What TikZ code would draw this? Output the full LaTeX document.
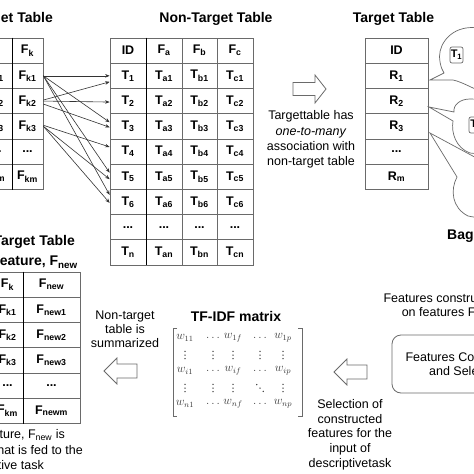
\documentclass[tikz,border=0pt]{standalone}
\usepackage{fontspec}
\setmainfont{Liberation Sans}
\usetikzlibrary{arrows.meta,calc}
\definecolor{gridc}{HTML}{6A6A6A}
\definecolor{linec}{HTML}{333333}
\definecolor{mxc}{HTML}{3A3A3A}
\newcommand\sbs[1]{\textsubscript{#1}}
\newcommand\NTrow[5]{%
  \pgfmathsetmacro\yy{38+25.22*(#1+0.5)}
  \node[cell,minimum width=36pt] (nt-#1-0) at (128,\yy) {#2};
  \node[cell,minimum width=36pt] (nt-#1-1) at (164,\yy) {#3};
  \node[cell,minimum width=35pt] (nt-#1-2) at (199.5,\yy) {#4};
  \node[cell,minimum width=36pt] (nt-#1-3) at (235,\yy) {#5};}
\newcommand\TLrow[3]{%
  \pgfmathsetmacro\yy{38+25.22*(#1+0.5)}
  \node[cell,minimum width=31pt] (tl-#1-0) at (-3.5,\yy) {#2};
  \node[cell,minimum width=31pt] (tl-#1-1) at (27.5,\yy) {#3};
  \node[cell,minimum width=63pt] (tr-#1) at (396.5,\yy) {};}
\newcommand\BLrow[3]{%
  \pgfmathsetmacro\yy{272+25.22*(#1+0.5)}
  \node[cell,minimum width=31pt] (bl-#1-0) at (7.5,\yy) {#2};
  \node[cell,minimum width=57pt] (bl-#1-1) at (51.5,\yy) {#3};}
\newcommand\MXrow[7]{%
  \node[mx] (m-#1-1) at (185,#2) {#3};
  \node[mx] (m-#1-2) at (213,#2) {#4};
  \node[mx] (m-#1-3) at (233,#2) {#5};
  \node[mx] (m-#1-4) at (260,#2) {#6};
  \node[mx] (m-#1-5) at (283,#2) {#7};}
\newcommand\VD[2]{\fill[mxc] (#1,#2-3.6) circle (0.75) (#1,#2) circle (0.75) (#1,#2+3.6) circle (0.75);}
\newcommand\DD[2]{\fill[mxc] (#1-3.2,#2-3.4) circle (0.75) (#1,#2) circle (0.75) (#1+3.2,#2+3.4) circle (0.75);}
\begin{document}
\begin{tikzpicture}[x=1pt,y=-1pt,
  cell/.style={draw=gridc, line width=0.7pt, inner sep=0pt, minimum height=25.22pt,
    font=\fontsize{12.5}{13}\selectfont\bfseries},
  titletext/.style={font=\fontsize{14}{16}\selectfont\bfseries, inner sep=0pt},
  bodytext/.style={font=\fontsize{12.5}{14.6}\selectfont, inner sep=0pt, align=center},
  conn/.style={draw=linec, line width=0.6pt, -{Stealth[length=4.5pt,width=3.5pt]}},
  thicksep/.style={draw=black, line width=1.6pt},
  hollow/.style={draw=gridc, line width=0.8pt, fill=white, line join=miter},
  bubble/.style={draw=gridc, line width=0.7pt},
  mx/.style={font=\fontsize{12}{12}\selectfont, inner sep=0pt, text=mxc}]
\useasboundingbox (0,0) rectangle (474,474);
\fill[white] (0,0) rectangle (474,474);
\clip (0,0) rectangle (474,474);

% ---- titles
\node[titletext, anchor=east] (tlTitle) at (53,19) {Target Table};
\node[titletext] (ntTitle) at (216,19) {Non-Target Table};
\node[titletext] (trTitle) at (393.5,19) {Target Table};

% ---- non-target table
\NTrow{0}{ID}{F\sbs{a}}{F\sbs{b}}{F\sbs{c}}
\NTrow{1}{T\sbs{1}}{T\sbs{a1}}{T\sbs{b1}}{T\sbs{c1}}
\NTrow{2}{T\sbs{2}}{T\sbs{a2}}{T\sbs{b2}}{T\sbs{c2}}
\NTrow{3}{T\sbs{3}}{T\sbs{a3}}{T\sbs{b3}}{T\sbs{c3}}
\NTrow{4}{T\sbs{4}}{T\sbs{a4}}{T\sbs{b4}}{T\sbs{c4}}
\NTrow{5}{T\sbs{5}}{T\sbs{a5}}{T\sbs{b5}}{T\sbs{c5}}
\NTrow{6}{T\sbs{6}}{T\sbs{a6}}{T\sbs{b6}}{T\sbs{c6}}
\NTrow{7}{...}{...}{...}{...}
\NTrow{8}{T\sbs{n}}{T\sbs{an}}{T\sbs{bn}}{T\sbs{cn}}
\draw[thicksep] (nt-0-0.north east) -- (nt-8-0.south east);

% ---- top-left and right target tables
\TLrow{0}{}{F\sbs{k}}
\TLrow{1}{R\sbs{1}}{F\sbs{k1}}
\TLrow{2}{R\sbs{2}}{F\sbs{k2}}
\TLrow{3}{R\sbs{3}}{F\sbs{k3}}
\TLrow{4}{...}{...}
\TLrow{5}{R\sbs{m}}{F\sbs{km}}
\draw[thicksep] (tl-0-0.north east) -- (tl-5-0.south east);
\node[font=\fontsize{12.5}{13}\selectfont\bfseries] at (tr-0) {ID};
\node[font=\fontsize{12.5}{13}\selectfont\bfseries] at (tr-1) {R\sbs{1}};
\node[font=\fontsize{12.5}{13}\selectfont\bfseries] at (tr-2) {R\sbs{2}};
\node[font=\fontsize{12.5}{13}\selectfont\bfseries] at (tr-3) {R\sbs{3}};
\node[font=\fontsize{12.5}{13}\selectfont\bfseries] at (tr-4) {...};
\node[font=\fontsize{12.5}{13}\selectfont\bfseries] at (tr-5) {R\sbs{m}};

% ---- connectors F_k -> T_i
\draw[conn] (tl-1-1.east) -- (nt-1-0.west);
\draw[conn] (tl-1-1.east) -- ($(nt-3-0.west)+(0,-4)$);
\draw[conn] (tl-1-1.east) -- ($(nt-5-0.west)+(0,-4)$);
\draw[conn] (tl-1-1.east) -- ($(nt-6-0.west)+(0,-7)$);
\draw[conn] ($(tl-2-1.east)+(0,-1)$) -- ($(nt-1-0.west)+(0,6)$);
\draw[conn] (tl-2-1.east) -- ($(nt-2-0.west)+(0,1)$);
\draw[conn] ($(tl-2-1.east)+(0,3)$) -- ($(nt-3-0.west)+(0,1)$);
\draw[conn] ($(tl-3-1.east)+(0,-1)$) -- ($(nt-4-0.west)+(0,-4.5)$);
\draw[conn] (tl-3-1.east) -- ($(nt-5-0.west)+(0,2.5)$);
\draw[conn] (tl-3-1.east) -- ($(nt-6-0.west)+(0,1)$);

% ---- association text and hollow arrow
\draw[hollow] (293,82.5) -- (315,82.5) -- (315,75) -- (326,89) -- (315,103) -- (315,95.5) -- (293,95.5) -- cycle;
\node[bodytext, font=\fontsize{12.5}{15.2}\selectfont] (assoc) at (311,139.5)
  {Targettable has\\\textit{one-to-many}\\association with\\non-target table};

% ---- speech bubbles
\draw[bubble] (520,40) .. controls (500,28) and (482,26) .. (466,28)
  .. controls (447,31) and (437,48) .. (440,62)
  .. controls (441,67) and (442,70) .. (444,73) -- (430,80) -- (453,80)
  .. controls (462,82) and (470,87) .. (482,92);
\node[draw=gridc, rounded corners=2pt, line width=0.7pt, inner sep=0pt,
  minimum width=13pt, minimum height=16pt,
  font=\fontsize{11}{11}\selectfont\bfseries] (bag1) at (456.5,55) {T\sbs{1}};
\draw[bubble] (500,100) -- (470,99) .. controls (460,99) and (453,105) .. (454,112)
  -- (429,107) -- (453,121) .. controls (451,133) and (456,148) .. (470,153) -- (500,156);
\node[draw=gridc, rounded corners=2pt, line width=0.7pt, inner sep=0pt,
  minimum width=14pt, minimum height=16pt,
  font=\fontsize{11}{11}\selectfont\bfseries] (bag2) at (476,125) {T\sbs{2}};
\draw[bubble] (482,161) -- (430,133) -- (457,177)
  .. controls (450,190) and (452,208) .. (468,216) -- (500,222);
\node[titletext, anchor=west] (bags) at (447,236) {Bags};

% ---- bottom-left target table
\node[titletext, anchor=east] (blTitle1) at (75,242) {Target Table};
\node[titletext, anchor=east] (blTitle2) at (78,262) {feature, F\sbs{new}};
\BLrow{0}{F\sbs{k}}{F\sbs{new}}
\BLrow{1}{F\sbs{k1}}{F\sbs{new1}}
\BLrow{2}{F\sbs{k2}}{F\sbs{new2}}
\BLrow{3}{F\sbs{k3}}{F\sbs{new3}}
\BLrow{4}{...}{...}
\BLrow{5}{F\sbs{km}}{F\sbs{newm}}
\draw[thicksep] (bl-0-0.north east) -- (bl-5-0.south east);
\node[bodytext, anchor=east] (cap1) at (65,435) {feature, F\sbs{new} is};
\node[bodytext, anchor=east] (cap2) at (83,450) {that is fed to the};
\node[bodytext, anchor=east] (cap3) at (44,466) {descriptive task};

% ---- summarized
\node[bodytext, font=\fontsize{12.5}{14}\selectfont] (summ) at (125,329) {Non-target\\table is\\summarized};
\draw[hollow] (137,364) -- (117,364) -- (117,358) -- (104,371) -- (117,384) -- (117,378) -- (137,378) -- cycle;

% ---- TF-IDF matrix
\node[titletext] (tfidf) at (236,316) {TF-IDF matrix};
\draw[draw=gridc, line width=0.8pt] (177,328) -- (173,328) -- (173,416) -- (177,416);
\draw[draw=gridc, line width=0.8pt] (298,328) -- (302,328) -- (302,416) -- (298,416);
\MXrow{1}{338}{$w_{11}$}{$\ldots$}{$w_{1f}$}{$\ldots$}{$w_{1p}$}
\MXrow{3}{371}{$w_{i1}$}{$\ldots$}{$w_{if}$}{$\ldots$}{$w_{ip}$}
\MXrow{5}{404}{$w_{n1}$}{$\ldots$}{$w_{nf}$}{$\ldots$}{$w_{np}$}
\VD{185}{355}\VD{213}{355}\VD{233}{355}\VD{260}{355}\VD{283}{355}
\VD{185}{388}\VD{213}{388}\VD{233}{388}\DD{260}{388}\VD{283}{388}

% ---- right-bottom
\node[bodytext, font=\fontsize{12.5}{14}\selectfont] (fcon) at (461,306)
  {Features constructed based\\on features F\sbs{a}, F\sbs{b}, F\sbs{c}};
\node[draw=gridc, line width=0.8pt, rounded corners=9pt, minimum width=150pt,
  minimum height=58pt, inner sep=0pt, align=center,
  font=\fontsize{12.5}{14}\selectfont] (fcs) at (467,364) {Features Construction\\and Selection};
\draw[hollow] (367,365) -- (347,365) -- (347,359) -- (334,372) -- (347,385) -- (347,379) -- (367,379) -- cycle;
\node[bodytext, font=\fontsize{12.5}{14.7}\selectfont] (selt) at (350,434.5)
  {Selection of\\constructed\\features for the\\input of\\descriptivetask};
\end{tikzpicture}
\end{document}
